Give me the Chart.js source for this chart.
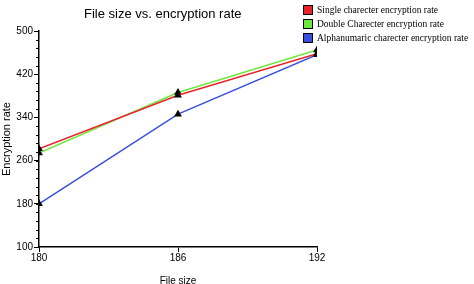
<!DOCTYPE html>
<html>
<head>
<meta charset="utf-8">
<script src="https://cdn.jsdelivr.net/npm/chart.js@4.4.1/dist/chart.umd.min.js"></script>
<style>
  body { margin: 0; background: #fff; }
  #wrap { position: relative; width: 474px; height: 284px; overflow: hidden; }
  #title { position: absolute; left: 84px; top: 6px; font: 13px "Liberation Sans", Arial, sans-serif; color: #000; white-space: nowrap; }
  #legend { position: absolute; left: 303px; top: 5px; font: 9.5px "Liberation Serif", "Times New Roman", serif; color: #000; }
  #legend div { height: 14px; line-height: 10px; white-space: nowrap; }
  #legend span { display: inline-block; width: 8px; height: 8px; border: 1px solid #000; vertical-align: top; margin-right: 4px; }
</style>
</head>
<body>
<div id="wrap">
  <canvas id="encChart" width="474" height="284"></canvas>
  <div id="title">File size vs. encryption rate</div>
  <div id="legend"></div>
</div>
<script>
// --- DATA ---
const fileSizes = [180, 186, 192];
const singleRate = [282, 381, 458];
const doubleRate = [274, 386, 465];
const alphaRate = [180, 346, 456];
const yTicks = [100, 180, 260, 340, 420, 500];

const seriesNames = [
    'Single charecter encryption rate',
    'Double Charecter encryption rate',
    'Alphanumaric charecter encryption rate'
];
const seriesColors = ['#e8242a', '#6ee83a', '#3a50dc'];

// legend (HTML)
const legendEl = document.getElementById('legend');
seriesNames.forEach((name, i) => {
    const row = document.createElement('div');
    row.innerHTML = `<span style="background:${seriesColors[i]}"></span>${name}`;
    legendEl.appendChild(row);
});

// short minor ticks on the y axis
const minorTicks = {
    id: 'minorTicks',
    afterDraw(chart) {
        const y = chart.scales.y;
        const c = chart.ctx;
        c.save();
        c.strokeStyle = '#000';
        c.lineWidth = 1;
        for (let v = y.min; v <= y.max; v += 16) {
            const py = Math.round(y.getPixelForValue(v)) + 0.5;
            c.beginPath();
            c.moveTo(y.right - 3, py);
            c.lineTo(y.right, py);
            c.stroke();
        }
        c.restore();
    }
};

const ctx = document.getElementById('encChart').getContext('2d');
const toPoints = arr => arr.map((v, i) => ({ x: fileSizes[i], y: v }));

new Chart(ctx, {
    type: 'line',
    data: {
        datasets: [singleRate, doubleRate, alphaRate].map((arr, i) => ({
            label: seriesNames[i],
            data: toPoints(arr),
            borderColor: seriesColors[i],
            borderWidth: 1.5,
            pointStyle: 'triangle',
            pointRadius: 4.5,
            pointBackgroundColor: '#000',
            pointBorderColor: '#000',
            pointBorderWidth: 0,
            tension: 0
        }))
    },
    options: {
        responsive: false,
        animation: false,
        layout: { padding: { top: 31, right: 157, left: 0, bottom: 0 } },
        plugins: { legend: { display: false }, tooltip: { enabled: false } },
        scales: {
            x: {
                type: 'linear',
                min: 180,
                max: 192,
                afterBuildTicks: s => { s.ticks = fileSizes.map(v => ({ value: v })); },
                ticks: { color: '#000', font: { family: 'Liberation Sans', size: 10 }, padding: 0 },
                grid: { drawOnChartArea: false, drawTicks: true, tickLength: 5, color: '#000' },
                border: { color: '#000', width: 1.5 },
                title: { display: true, text: 'File size', color: '#000', font: { family: 'Liberation Sans', size: 10 }, padding: { top: 0, bottom: -3 } },
                afterFit: s => { s.height = 37; }
            },
            y: {
                min: 100,
                max: 500,
                afterBuildTicks: s => { s.ticks = yTicks.map(v => ({ value: v })); },
                ticks: { color: '#000', font: { family: 'Liberation Sans', size: 10 }, padding: 1 },
                grid: { drawOnChartArea: false, drawTicks: true, tickLength: 5, color: '#000' },
                border: { color: '#000', width: 1.5 },
                title: { display: true, text: 'Encryption rate', color: '#000', font: { family: 'Liberation Sans', size: 11 }, padding: { top: 0, bottom: 0 } },
                afterFit: s => { s.width = 39; }
            }
        }
    },
    plugins: [minorTicks]
});
</script>
</body>
</html>
